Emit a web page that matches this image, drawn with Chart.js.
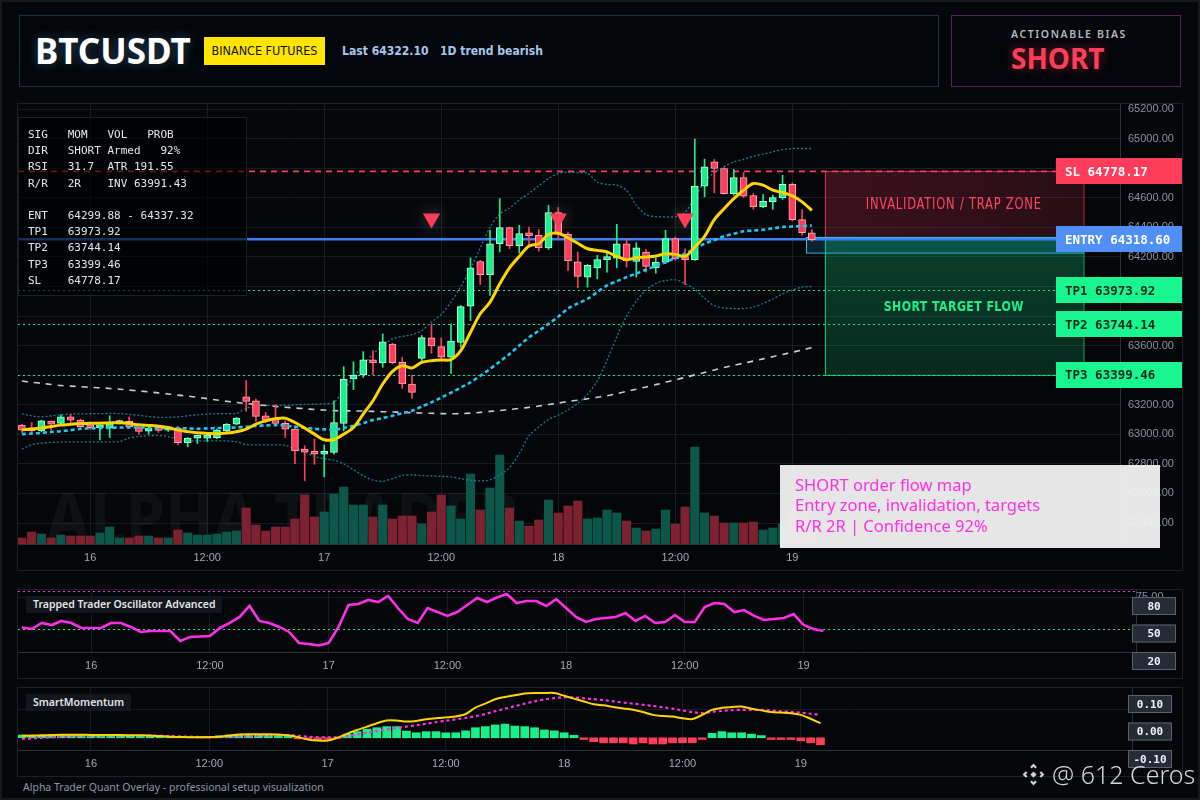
<!DOCTYPE html>
<html>
<head>
<meta charset="utf-8">
<title>BTCUSDT short setup</title>
<script src="https://cdn.jsdelivr.net/npm/chart.js@4.4.1/dist/chart.umd.min.js"></script>
<style>
  html, body { margin: 0; padding: 0; }
  body {
    width: 1200px; height: 800px; position: relative; overflow: hidden;
    background: #05070b; font-family: 'Noto Sans', sans-serif;
    box-shadow: inset 0 0 0 2px #151920;
  }
  .abs { position: absolute; white-space: pre; }
  .frame { position: absolute; border: 1px solid #1a212b; box-sizing: border-box; background: #04060a; }
  .frame canvas { position: absolute; left: 0; top: 0; }
  #hdr { left: 19px; top: 15px; width: 920px; height: 72px; border: 1px solid #0e3942; box-sizing: border-box; background: #03060a; }
  #bias { left: 951px; top: 15px; width: 230px; height: 72px; border: 1px solid #5a1e5f; box-sizing: border-box; background: #03060a; }
  #sym { left: 35px; top: 26px; font: 700 35px 'Noto Sans'; line-height: 50px; color: #fff;
         text-shadow: 0 0 12px rgba(110,190,255,0.35); }
  #badge { left: 204px; top: 37px; width: 121px; height: 28px; text-align: center;
           background: #ffe500; color: #111; font: 12.5px 'DejaVu Sans'; font-stretch: condensed; line-height: 28px; }
  #last { left: 342px; top: 41px; font: 700 13px 'DejaVu Sans'; line-height: 20px; color: #a9c6ee;
          transform: scaleX(0.834); transform-origin: 0 50%; }
  #biasT { left: 1011px; top: 26px; font: 600 10.5px 'Noto Sans'; line-height: 16px; letter-spacing: 1.6px; color: #b4b8be; }
  #biasV { left: 1011px; top: 38px; font: 700 28px 'Noto Sans'; line-height: 40px; color: #ff3d5a;
           text-shadow: 0 0 12px rgba(255,61,90,0.45); }
  #info { left: 18px; top: 117px; width: 229px; height: 179px; box-sizing: border-box;
          background: rgba(0,0,0,0.62); border: 1px solid #1b2029; padding: 9px 0 0 9px;
          font: 11px 'DejaVu Sans Mono'; line-height: 16.2px; color: #e4e6ea; }
  #note { left: 780px; top: 465px; width: 380px; height: 83px; box-sizing: border-box;
          background: rgba(242,242,242,0.95); padding: 9.5px 0 0 15px;
          font: 16.5px 'Noto Sans'; line-height: 20.7px; color: #ff2fe6; }
  .ptitle { background: #12161d; color: #e2e4e8; font: 600 10.5px 'Noto Sans'; line-height: 17px; padding: 0 7px; }
  #foot { left: 23px; top: 779px; font: 10.5px 'Noto Sans'; line-height: 16px; color: #8d98a7; }
  #brand { left: 1052px; top: 757px; font: 300 25px 'Noto Sans'; line-height: 34px; color: #d6d6d6; }
</style>
</head>
<body>

<div class="abs" id="hdr"></div>
<div class="abs" id="sym">BTCUSDT</div>
<div class="abs" id="badge">BINANCE FUTURES</div>
<div class="abs" id="last">Last 64322.10   1D trend bearish</div>
<div class="abs" id="bias"></div>
<div class="abs" id="biasT">ACTIONABLE BIAS</div>
<div class="abs" id="biasV">SHORT</div>

<div class="frame" style="left:17px;top:103px;width:1166px;height:468px;">
  <canvas id="mainChart" width="1164" height="466"></canvas>
</div>
<div class="frame" style="left:17px;top:589px;width:1166px;height:90px;">
  <canvas id="oscChart" width="1164" height="88"></canvas>
</div>
<div class="frame" style="left:17px;top:687px;width:1166px;height:90px;">
  <canvas id="momChart" width="1164" height="88"></canvas>
</div>

<div class="abs" id="info">SIG   MOM   VOL   PROB
DIR   SHORT Armed   92%
RSI   31.7  ATR 191.55
R/R   2R    INV 63991.43

ENT   64299.88 - 64337.32
TP1   63973.92
TP2   63744.14
TP3   63399.46
SL    64778.17</div>

<div class="abs" id="note">SHORT order flow map
Entry zone, invalidation, targets
R/R 2R | Confidence 92%</div>

<div class="abs ptitle" style="left:26px;top:596px;">Trapped Trader Oscillator Advanced</div>
<div class="abs ptitle" style="left:26px;top:694px;">SmartMomentum</div>

<div class="abs" id="foot">Alpha Trader Quant Overlay - professional setup visualization</div>
<svg class="abs" style="left:1021px;top:762px;" width="25" height="25" viewBox="0 0 24 24">
  <g fill="#d0d0d0">
    <path d="M12 1.5l3.2 3.2-1.5 1.5L12 4.5l-1.7 1.7-1.5-1.5z"/>
    <path d="M12 22.5l-3.2-3.2 1.5-1.5 1.7 1.7 1.7-1.7 1.5 1.5z"/>
    <path d="M1.5 12l3.2-3.2 1.5 1.5L4.5 12l1.7 1.7-1.5 1.5z"/>
    <path d="M22.5 12l-3.2 3.2-1.5-1.5 1.7-1.7-1.7-1.7 1.5-1.5z"/>
    <path d="M12 9l3 3-3 3-3-3z"/>
  </g>
</svg>
<div class="abs" id="brand">@ 612 Ceros</div>

<script>
'use strict';

/* --------------------------------------------------------------------------
   DATA  (hourly candles, x = hours counted from the 16th 00:00)
   -------------------------------------------------------------------------- */
const FIRST_HOUR = -7;                 // first candle: 15th 17:00
const X_MIN = -7.4, X_MAX = 105.6;     // visible time window incl. empty future space
const TICK_HOURS  = [0, 12, 24, 36, 48, 60, 72];
const TICK_LABELS = ['16', '12:00', '17', '12:00', '18', '12:00', '19'];
const PRICE_TICKS = [62400, 62600, 62800, 63000, 63200, 63400, 63600, 63800,
                     64000, 64200, 64400, 64600, 64800, 65000, 65200];

const candleOpen = [
  63062, 63035, 63023, 63089, 63073, 63118, 63096, 63053, 63044, 63042,
  63073, 63087, 63046, 63021, 63032, 63028, 63042, 62944, 62974, 62974,
  62978, 63023, 63069, 63254, 63227, 63125, 63103, 63075, 63035, 62895,
  62881, 62865, 62877, 63073, 63374, 63401, 63503, 63482, 63611, 63487,
  63340, 63514, 63652, 63593, 63521, 63622, 63866, 64169, 64079, 64289,
  64398, 64276, 64361, 64346, 64260, 64499, 64352, 64167, 64063, 64126,
  64181, 64192, 64289, 64169, 64233, 64126, 64165, 64323, 64192, 64181,
  64678, 64843, 64798, 64628, 64737, 64615, 64538, 64572, 64599, 64691,
  64452, 64362];
const candleHigh = [
  63069, 63080, 63096, 63091, 63132, 63136, 63102, 63057, 63053, 63125,
  63096, 63118, 63057, 63046, 63042, 63040, 63051, 62978, 62978, 62985,
  63035, 63073, 63114, 63363, 63238, 63148, 63200, 63091, 63057, 62922,
  62967, 62928, 63227, 63457, 63491, 63559, 63566, 63679, 63616, 63521,
  63401, 63668, 63747, 63652, 63747, 63871, 64194, 64176, 64380, 64594,
  64402, 64413, 64402, 64384, 64549, 64533, 64368, 64233, 64149, 64210,
  64239, 64420, 64323, 64296, 64251, 64194, 64380, 64334, 64255, 64997,
  64861, 64859, 64804, 64791, 64771, 64628, 64621, 64617, 64752, 64700,
  64520, 64384];
const candleLow = [
  63012, 63001, 63017, 63030, 63069, 63080, 63046, 63035, 62962, 62978,
  63069, 63046, 63001, 63001, 63012, 63019, 62928, 62915, 62937, 62951,
  62971, 63017, 63064, 63155, 63087, 63080, 63055, 62978, 62802, 62685,
  62797, 62712, 62865, 63024, 63302, 63385, 63403, 63453, 63476, 63311,
  63243, 63498, 63548, 63510, 63412, 63588, 63769, 64013, 63939, 64233,
  64255, 64226, 64285, 64239, 64251, 64323, 64108, 63991, 63995, 64052,
  64097, 64126, 64131, 64063, 64097, 64090, 64154, 64176, 64014, 64176,
  64606, 64633, 64624, 64617, 64601, 64522, 64533, 64522, 64588, 64443,
  64346, 64305];
const candleClose = [
  63028, 63023, 63091, 63069, 63118, 63096, 63051, 63044, 63051, 63073,
  63091, 63051, 63019, 63032, 63026, 63030, 62944, 62974, 62978, 62980,
  63028, 63069, 63109, 63222, 63121, 63096, 63073, 63035, 62888, 62879,
  62865, 62881, 63080, 63374, 63401, 63503, 63482, 63625, 63485, 63340,
  63283, 63654, 63598, 63521, 63631, 63864, 64126, 64079, 64289, 64398,
  64276, 64357, 64343, 64262, 64499, 64357, 64172, 64068, 64142, 64181,
  64194, 64289, 64172, 64262, 64136, 64165, 64323, 64187, 64181, 64678,
  64809, 64798, 64628, 64737, 64610, 64538, 64576, 64601, 64691, 64452,
  64364, 64316];
const volume = [
  120, 240, 200, 120, 180, 160, 160, 160, 220, 340,
  120, 120, 160, 160, 120, 120, 280, 220, 180, 180,
  200, 240, 260, 720, 380, 260, 340, 340, 500, 980,
  540, 640, 1000, 1140, 780, 780, 540, 780, 500, 560,
  560, 400, 640, 980, 760, 500, 1400, 680, 1120, 1780,
  720, 460, 360, 480, 880, 620, 760, 860, 500, 520,
  680, 620, 460, 320, 260, 300, 680, 400, 740, 1940,
  620, 560, 420, 420, 420, 440, 280, 320, 400, 600,
  500, 360];

// overlays on price
const emaFast = [
  63030, 63036, 63042, 63052, 63062, 63068, 63073, 63074, 63075, 63077,
  63078, 63073, 63064, 63060, 63055, 63046, 63028, 63018, 63010, 63006,
  63003, 63008, 63017, 63035, 63069, 63091, 63105, 63109, 63080, 63042,
  63001, 62963, 62965, 63001, 63046, 63137, 63227, 63340, 63426, 63464,
  63449, 63487, 63498, 63503, 63505, 63566, 63690, 63815, 63894, 64018,
  64126, 64203, 64273, 64289, 64352, 64360, 64328, 64292, 64255, 64244,
  64233, 64203, 64181, 64194, 64199, 64206, 64221, 64217, 64203, 64266,
  64339, 64452, 64526, 64594, 64651, 64696, 64685, 64651, 64635, 64612,
  64572, 64515];
const emaSlow = [
  63001, 63005, 63010, 63016, 63021, 63028, 63037, 63040, 63042, 63044,
  63046, 63046, 63046, 63045, 63042, 63042, 63042, 63040, 63037, 63040,
  63042, 63044, 63046, 63051, 63057, 63060, 63064, 63060, 63051, 63044,
  63037, 63033, 63030, 63043, 63057, 63076, 63096, 63110, 63125, 63142,
  63159, 63188, 63216, 63248, 63281, 63316, 63351, 63396, 63442, 63492,
  63543, 63600, 63656, 63700, 63747, 63795, 63850, 63885, 63916, 63962,
  64007, 64035, 64063, 64088, 64113, 64139, 64165, 64193, 64221, 64255,
  64289, 64314, 64339, 64356, 64373, 64378, 64384, 64393, 64402, 64405,
  64409, 64412];
const maLong = [
  63360, 63352, 63345, 63337, 63330, 63326, 63322, 63318, 63315, 63310,
  63305, 63299, 63293, 63287, 63280, 63273, 63265, 63258, 63250, 63241,
  63232, 63223, 63215, 63208, 63201, 63195, 63188, 63183, 63178, 63173,
  63168, 63164, 63160, 63159, 63158, 63157, 63155, 63153, 63151, 63149,
  63146, 63144, 63142, 63140, 63139, 63140, 63143, 63148, 63155, 63161,
  63168, 63175, 63182, 63191, 63201, 63211, 63222, 63231, 63240, 63250,
  63260, 63275, 63290, 63305, 63320, 63336, 63352, 63368, 63385, 63402,
  63418, 63435, 63452, 63466, 63481, 63495, 63510, 63525, 63540, 63555,
  63570, 63586];
const bandUpper = [
  63140, 63125, 63118, 63125, 63132, 63137, 63138, 63139, 63140, 63141,
  63140, 63135, 63128, 63120, 63115, 63114, 63118, 63125, 63132, 63137,
  63139, 63140, 63141, 63175, 63190, 63195, 63196, 63195, 63200, 63202,
  63204, 63207, 63215, 63300, 63385, 63465, 63543, 63600, 63645, 63662,
  63674, 63700, 63760, 63810, 63895, 64000, 64120, 64260, 64400, 64490,
  64530, 64585, 64630, 64680, 64730, 64765, 64772, 64770, 64765, 64705,
  64690, 64686, 64650, 64550, 64485, 64472, 64470, 64472, 64500, 64600,
  64710, 64770, 64810, 64843, 64860, 64880, 64895, 64911, 64925, 64933,
  64933, 64933];
const bandLower = [
  62899, 62930, 62940, 62945, 62948, 62949, 62949, 62949, 62949, 62949,
  62950, 62975, 62985, 62990, 62992, 62985, 62965, 62956, 62955, 62956,
  62956, 62955, 62950, 62930, 62928, 62928, 62928, 62925, 62900, 62880,
  62850, 62835, 62825, 62800, 62760, 62720, 62690, 62682, 62700, 62722,
  62725, 62722, 62718, 62715, 62712, 62700, 62688, 62685, 62692, 62725,
  62775, 62870, 62990, 63050, 63100, 63130, 63165, 63210, 63270, 63360,
  63500, 63660, 63800, 63900, 63975, 64020, 64040, 64045, 64020, 63980,
  63920, 63870, 63855, 63850, 63850, 63860, 63885, 63915, 63950, 63975,
  63995, 64000];

// sub panels
const trapOsc = [
  51.2, 50.0, 54.7, 53.1, 56.3, 54.7, 50.8, 50.8, 50.8, 54.7,
  54.7, 51.6, 47.7, 48.4, 48.4, 48.4, 40.6, 43.8, 44.1, 44.5,
  50.8, 54.7, 59.4, 68.0, 56.3, 54.7, 51.6, 47.7, 39.1, 38.3,
  37.1, 39.1, 51.6, 68.8, 69.5, 72.7, 71.1, 75.8, 66.4, 57.8,
  54.7, 66.4, 63.3, 60.2, 63.3, 68.8, 74.2, 71.1, 74.6, 77.3,
  70.3, 71.9, 71.9, 68.0, 73.4, 66.4, 59.4, 55.5, 57.8, 58.6,
  59.4, 62.5, 56.3, 60.2, 54.7, 55.5, 60.9, 55.5, 55.5, 67.2,
  70.3, 69.5, 63.3, 64.8, 60.2, 57.0, 57.8, 58.6, 61.7, 53.1,
  50.0, 48.4];
const momHist = [
  0.010, 0.009, 0.009, 0.010, 0.010, 0.010, 0.010, 0.009, 0.009, 0.009,
  0.010, 0.009, 0.008, 0.008, 0.007, 0.006, 0.004, 0.004, 0.004, 0.005,
  0.007, 0.010, 0.012, 0.012, 0.012, 0.011, 0.009, 0.005, -0.004, -0.006,
  -0.007, -0.005, -0.002, 0.013, 0.022, 0.031, 0.036, 0.040, 0.040, 0.024,
  0.018, 0.022, 0.022, 0.018, 0.018, 0.025, 0.036, 0.040, 0.046, 0.049,
  0.042, 0.040, 0.036, 0.028, 0.025, 0.018, 0.009, -0.006, -0.014, -0.018,
  -0.018, -0.018, -0.022, -0.018, -0.022, -0.022, -0.018, -0.018, -0.018, -0.006,
  0.016, 0.022, 0.018, 0.018, 0.013, 0.008, -0.006, -0.006, -0.006, -0.011,
  -0.018, -0.025];
const momLine = [
  0.007, 0.008, 0.009, 0.010, 0.011, 0.011, 0.011, 0.010, 0.010, 0.010,
  0.010, 0.009, 0.009, 0.008, 0.006, 0.004, 0.003, 0.002, 0.002, 0.002,
  0.004, 0.008, 0.012, 0.013, 0.013, 0.013, 0.012, 0.009, 0.002, -0.006,
  -0.010, -0.010, 0.000, 0.015, 0.028, 0.040, 0.052, 0.062, 0.062, 0.058,
  0.060, 0.066, 0.070, 0.073, 0.076, 0.085, 0.108, 0.122, 0.138, 0.146,
  0.152, 0.158, 0.160, 0.160, 0.160, 0.150, 0.140, 0.130, 0.120, 0.116,
  0.110, 0.105, 0.100, 0.092, 0.082, 0.078, 0.076, 0.070, 0.067, 0.082,
  0.100, 0.107, 0.110, 0.112, 0.104, 0.098, 0.092, 0.090, 0.088, 0.082,
  0.068, 0.052];
const momSignal = [
  -0.004, -0.002, 0.000, 0.002, 0.004, 0.005, 0.006, 0.007, 0.007, 0.008,
  0.008, 0.008, 0.008, 0.008, 0.007, 0.006, 0.005, 0.004, 0.003, 0.002,
  0.003, 0.004, 0.005, 0.006, 0.007, 0.008, 0.009, 0.010, 0.007, 0.004,
  0.002, 0.002, 0.002, 0.006, 0.012, 0.018, 0.024, 0.030, 0.035, 0.040,
  0.045, 0.050, 0.056, 0.061, 0.066, 0.071, 0.077, 0.085, 0.095, 0.104,
  0.113, 0.122, 0.130, 0.137, 0.142, 0.145, 0.144, 0.141, 0.138, 0.135,
  0.130, 0.126, 0.122, 0.118, 0.114, 0.109, 0.104, 0.098, 0.092, 0.088,
  0.093, 0.096, 0.099, 0.100, 0.100, 0.100, 0.098, 0.095, 0.093, 0.090,
  0.086, 0.082];

// trade plan
const LEVEL_SL    = 64778.17;
const LEVEL_ENTRY = 64318.60;
const LEVEL_TP    = [63973.92, 63744.14, 63399.46];
const ENTRY_BOX   = [64232, 64337.32];
const ENTRY_BOX_FROM = 73.4;           // hours
const ZONE_HOURS  = [75.3, 101.8];     // trap / target zones on the time axis
const SIGNAL_IDX  = [42, 55, 68];      // short signal candles
const SIGNAL_PRICE = 64460;
const OSC_LEVELS  = [80, 50];
const OSC_TAGS    = ['80', '50', '20'];
const MOM_TAGS    = ['0.10', '0.00', '-0.10'];

/* --------------------------------------------------------------------------
   HELPERS
   -------------------------------------------------------------------------- */
const COLORS = {
  up: '#19f08c', down: '#ff3d5a', upEdge: '#b8ffdc', downEdge: '#ffaab8',
  volUp: '#0d574a', volDown: '#7d2231', grid: '#151c25', axis: '#2a313c',
  tick: '#a2a9b2', yellow: '#ffd400', cyan: '#1ec8f0', band: '#14819b',
  white: '#c9ccd0', blue: '#3b7ff2', magenta: '#ff2fe6', green: '#19e68c',
};

const xs = candleOpen.map((_, i) => FIRST_HOUR + i);
const isUp = candleClose.map((c, i) => c >= candleOpen[i]);
const pts = arr => arr.map((v, i) => ({ x: xs[i], y: v }));

function timeAxis() {
  return {
    type: 'linear', min: X_MIN, max: X_MAX, offset: false,
    grid: { color: COLORS.grid, drawTicks: false, offset: false },
    border: { color: COLORS.axis },
    ticks: {
      color: COLORS.tick, font: { family: 'Liberation Sans', size: 11 },
      padding: 7, autoSkip: false, maxRotation: 0,
      callback: v => TICK_LABELS[TICK_HOURS.indexOf(v)],
    },
    afterBuildTicks: s => { s.ticks = TICK_HOURS.map(v => ({ value: v })); },
    afterFit: s => { s.height = 26; s.paddingLeft = 0; s.paddingRight = 0; },
  };
}

function lineSet(data, color, width, dash, order, tension) {
  return {
    type: 'line', data: pts(data), borderColor: color, borderWidth: width,
    borderDash: dash, pointRadius: 0, tension: tension, order: order, fill: false,
  };
}

function drawTag(ctx, y, x0, x1, bg, fg, text) {
  ctx.fillStyle = bg;
  ctx.fillRect(x0, Math.round(y) - 13, x1 - x0, 26);
  ctx.fillStyle = fg;
  ctx.font = 'bold 12.5px "DejaVu Sans Mono"';
  ctx.textAlign = 'left';
  ctx.textBaseline = 'middle';
  ctx.fillText(text, x0 + 9, y + 1);
}

function drawSideBoxes(ctx, chart, labels) {
  const x0 = chart.chartArea.right - 4;
  [16, 43.5, 71].forEach((cy, i) => {
    ctx.fillStyle = '#262c36';
    ctx.fillRect(x0, cy - 9, 44, 18);
    ctx.strokeStyle = '#59616e';
    ctx.lineWidth = 1;
    ctx.strokeRect(x0 + 0.5, cy - 8.5, 43, 17);
    ctx.fillStyle = '#f0f2f4';
    ctx.font = 'bold 11px "DejaVu Sans Mono"';
    ctx.textAlign = 'center';
    ctx.textBaseline = 'middle';
    ctx.fillText(labels[i], x0 + 22, cy + 1);
  });
}

const BASE_OPTIONS = {
  responsive: false, devicePixelRatio: 1, animation: false,
  layout: { padding: 0, autoPadding: false },
  plugins: { legend: { display: false }, tooltip: { enabled: false } },
};

/* --------------------------------------------------------------------------
   MAIN PRICE PANEL
   -------------------------------------------------------------------------- */
const tradePlanPlugin = {
  id: 'tradePlan',
  beforeDatasetsDraw(chart) {
    const { ctx, chartArea: a, scales: { x, y } } = chart;
    const tagLeft = a.right - 64;
    ctx.save();

    // watermark
    ctx.font = 'bold 70px "Noto Sans"';
    ctx.fillStyle = 'rgba(255,255,255,0.045)';
    ctx.textBaseline = 'alphabetic';
    ctx.textAlign = 'left';
    ctx.fillText('ALPHA TRADER', 28, 439, 474);

    const zx0 = x.getPixelForValue(ZONE_HOURS[0]);
    const zx1 = x.getPixelForValue(ZONE_HOURS[1]);
    const ySL = y.getPixelForValue(LEVEL_SL);
    const yEn = y.getPixelForValue(LEVEL_ENTRY);
    const yT3 = y.getPixelForValue(LEVEL_TP[2]);

    // invalidation / trap zone
    const gr = ctx.createLinearGradient(zx0, 0, zx1, 0);
    gr.addColorStop(0, 'rgba(255,61,90,0.22)');
    gr.addColorStop(1, 'rgba(255,61,90,0.15)');
    ctx.fillStyle = gr;
    ctx.fillRect(zx0, ySL, zx1 - zx0, yEn - ySL);
    ctx.strokeStyle = 'rgba(255,61,90,0.75)';
    ctx.lineWidth = 1;
    ctx.strokeRect(Math.round(zx0) + 0.5, Math.round(ySL) + 0.5, zx1 - zx0, yEn - ySL);

    // target flow zone
    const gg = ctx.createLinearGradient(0, yEn, 0, yT3);
    gg.addColorStop(0, 'rgba(25,230,140,0.26)');
    gg.addColorStop(1, 'rgba(25,230,140,0.16)');
    ctx.fillStyle = gg;
    ctx.fillRect(zx0, yEn, zx1 - zx0, yT3 - yEn);
    ctx.strokeStyle = 'rgba(25,230,140,0.8)';
    ctx.strokeRect(Math.round(zx0) + 0.5, Math.round(yEn) + 0.5, zx1 - zx0, yT3 - yEn);

    // entry box
    const ex0 = x.getPixelForValue(ENTRY_BOX_FROM);
    const eyT = y.getPixelForValue(ENTRY_BOX[1]);
    const eyB = y.getPixelForValue(ENTRY_BOX[0]);
    ctx.fillStyle = 'rgba(30,200,240,0.16)';
    ctx.fillRect(ex0, eyT, zx1 - ex0, eyB - eyT);
    ctx.strokeStyle = '#22c6ec';
    ctx.strokeRect(Math.round(ex0) + 0.5, Math.round(eyT) + 0.5, zx1 - ex0, eyB - eyT);

    // zone captions
    ctx.textAlign = 'center';
    ctx.textBaseline = 'middle';
    ctx.fontStretch = 'condensed';
    ctx.font = '15px "DejaVu Sans"';
    ctx.letterSpacing = '1px';
    ctx.fillStyle = '#ff4664';
    ctx.fillText('INVALIDATION / TRAP ZONE', (zx0 + zx1) / 2, (ySL + yEn) / 2, 176);
    ctx.font = 'bold 14px "DejaVu Sans"';
    ctx.letterSpacing = '0.5px';
    ctx.fillStyle = '#19f08c';
    ctx.fillText('SHORT TARGET FLOW', (zx0 + zx1) / 2, y.getPixelForValue(LEVEL_TP[0]) + 17, 140);
    ctx.letterSpacing = '0px';

    // level lines
    ctx.lineWidth = 1.6;
    ctx.strokeStyle = COLORS.down;
    ctx.setLineDash([6, 5]);
    ctx.beginPath(); ctx.moveTo(a.left, ySL); ctx.lineTo(tagLeft, ySL); ctx.stroke();
    ctx.setLineDash([2, 3]);
    ctx.lineWidth = 1.2;
    ctx.strokeStyle = COLORS.green;
    LEVEL_TP.forEach(v => {
      const ty = Math.round(y.getPixelForValue(v)) + 0.5;
      ctx.beginPath(); ctx.moveTo(a.left, ty); ctx.lineTo(tagLeft, ty); ctx.stroke();
    });
    ctx.setLineDash([]);
    ctx.lineWidth = 2.5;
    ctx.strokeStyle = COLORS.blue;
    ctx.beginPath(); ctx.moveTo(a.left, yEn); ctx.lineTo(tagLeft, yEn); ctx.stroke();
    ctx.restore();
  },
  beforeDatasetDraw(chart, args) {
    if (chart.data.datasets[args.index].glow) {
      chart.ctx.save();
      chart.ctx.shadowColor = 'rgba(190,190,190,0.45)';
      chart.ctx.shadowBlur = 16;
    }
  },
  afterDatasetDraw(chart, args) {
    if (chart.data.datasets[args.index].glow) chart.ctx.restore();
  },
  afterDraw(chart) {
    const { ctx, chartArea: a, scales: { y } } = chart;
    const x0 = a.right - 64, x1 = chart.width;
    ctx.save();
    drawTag(ctx, y.getPixelForValue(LEVEL_SL), x0, x1, '#ff3d5a', '#ffffff', 'SL ' + LEVEL_SL.toFixed(2));
    drawTag(ctx, y.getPixelForValue(LEVEL_ENTRY), x0, x1, '#4f8ff7', '#ffffff', 'ENTRY ' + LEVEL_ENTRY.toFixed(2));
    LEVEL_TP.forEach((v, i) => {
      drawTag(ctx, y.getPixelForValue(v), x0, x1, '#19f58f', '#062a1a', 'TP' + (i + 1) + ' ' + v.toFixed(2));
    });
    ctx.restore();
  },
};

new Chart(document.getElementById('mainChart'), {
  type: 'bar',
  data: {
    datasets: [
      {
        type: 'line', showLine: false, data: SIGNAL_IDX.map(i => ({ x: xs[i], y: SIGNAL_PRICE })),
        pointStyle: 'triangle', rotation: 180, pointRadius: 10, pointBorderWidth: 0,
        pointBackgroundColor: '#ff3d5a', glow: true, order: 1,
      },
      lineSet(emaFast, COLORS.yellow, 3, [], 2, 0.3),
      lineSet(emaSlow, COLORS.cyan, 2.6, [4, 3], 3, 0.3),
      {
        data: xs.map((x, i) => ({ x, y: [candleOpen[i], candleClose[i]] })),
        backgroundColor: isUp.map(u => u ? COLORS.up : COLORS.down),
        borderColor: isUp.map(u => u ? COLORS.upEdge : COLORS.downEdge),
        borderWidth: 1, borderSkipped: false, barThickness: 7, minBarLength: 3,
        grouped: false, order: 4,
      },
      {
        data: xs.map((x, i) => ({ x, y: [candleLow[i], candleHigh[i]] })),
        backgroundColor: isUp.map(u => u ? COLORS.up : COLORS.down),
        barThickness: 1, grouped: false, order: 5,
      },
      lineSet(maLong, COLORS.white, 1.6, [6, 6], 6, 0.3),
      lineSet(bandUpper, COLORS.band, 1.3, [2, 2], 7, 0.3),
      lineSet(bandLower, COLORS.band, 1.3, [2, 2], 7, 0.3),
      {
        data: xs.map((x, i) => ({ x, y: volume[i] })), yAxisID: 'yv',
        backgroundColor: isUp.map(u => u ? COLORS.volUp : COLORS.volDown),
        barThickness: 8.5, grouped: false, order: 10,
      },
    ],
  },
  options: {
    ...BASE_OPTIONS,
    scales: {
      x: timeAxis(),
      y: {
        type: 'linear', position: 'right', min: 62258, max: 65234,
        grid: { color: COLORS.grid, drawTicks: false }, border: { color: COLORS.axis },
        ticks: { color: '#8a929c', font: { family: 'Liberation Sans', size: 11 }, padding: 8,
                 callback: v => v.toFixed(2) },
        afterBuildTicks: s => { s.ticks = PRICE_TICKS.map(v => ({ value: v })); },
        afterFit: s => { s.width = 62; s.paddingTop = 0; s.paddingBottom = 0; },
      },
      yv: { display: false, min: 0, max: 8800 },
    },
  },
  plugins: [tradePlanPlugin],
});

/* --------------------------------------------------------------------------
   TRAPPED TRADER OSCILLATOR
   -------------------------------------------------------------------------- */
new Chart(document.getElementById('oscChart'), {
  type: 'line',
  data: {
    datasets: [{
      data: pts(trapOsc), borderColor: COLORS.magenta, borderWidth: 2.6,
      pointRadius: 0, tension: 0, fill: false,
    }],
  },
  options: {
    ...BASE_OPTIONS,
    scales: {
      x: timeAxis(),
      y: {
        type: 'linear', position: 'right', min: 32, max: 80.5,
        grid: { color: COLORS.grid, drawTicks: false }, border: { color: COLORS.axis },
        ticks: { color: '#8a929c', font: { family: 'Liberation Sans', size: 11 }, padding: 0,
                 callback: v => v.toFixed(2) },
        afterBuildTicks: s => { s.ticks = [{ value: 75 }]; },
        afterFit: s => { s.width = 46; s.paddingTop = 0; s.paddingBottom = 0; },
      },
    },
  },
  plugins: [{
    id: 'oscLevels',
    beforeDatasetsDraw(chart) {
      const { ctx, chartArea: a, scales: { y } } = chart;
      ctx.save();
      ctx.lineWidth = 1.2;
      ctx.setLineDash([2, 3]);
      OSC_LEVELS.forEach((v, i) => {
        const ly = Math.round(y.getPixelForValue(v)) + 0.5;
        ctx.strokeStyle = i === 0 ? COLORS.magenta : COLORS.green;
        ctx.beginPath(); ctx.moveTo(a.left, ly); ctx.lineTo(a.right, ly); ctx.stroke();
      });
      ctx.restore();
    },
    afterDraw(chart) {
      chart.ctx.save();
      drawSideBoxes(chart.ctx, chart, OSC_TAGS);
      chart.ctx.restore();
    },
  }],
});

/* --------------------------------------------------------------------------
   SMART MOMENTUM
   -------------------------------------------------------------------------- */
new Chart(document.getElementById('momChart'), {
  type: 'bar',
  data: {
    datasets: [
      lineSet(momLine, COLORS.yellow, 2, [], 1, 0.3),
      lineSet(momSignal, COLORS.magenta, 2.2, [3, 3], 2, 0.3),
      {
        data: pts(momHist),
        backgroundColor: momHist.map(v => v >= 0 ? COLORS.up : COLORS.down),
        barThickness: 8, grouped: false, order: 3,
      },
    ],
  },
  options: {
    ...BASE_OPTIONS,
    scales: {
      x: timeAxis(),
      y: {
        type: 'linear', position: 'right', min: -0.0436, max: 0.178,
        grid: { color: COLORS.grid, drawTicks: false }, border: { color: COLORS.axis },
        ticks: { display: false },
        afterBuildTicks: s => { s.ticks = [{ value: 0.1 }]; },
        afterFit: s => { s.width = 50; s.paddingTop = 0; s.paddingBottom = 0; },
      },
    },
  },
  plugins: [{
    id: 'momBoxes',
    afterDraw(chart) {
      chart.ctx.save();
      drawSideBoxes(chart.ctx, chart, MOM_TAGS);
      chart.ctx.restore();
    },
  }],
});
</script>
</body>
</html>
